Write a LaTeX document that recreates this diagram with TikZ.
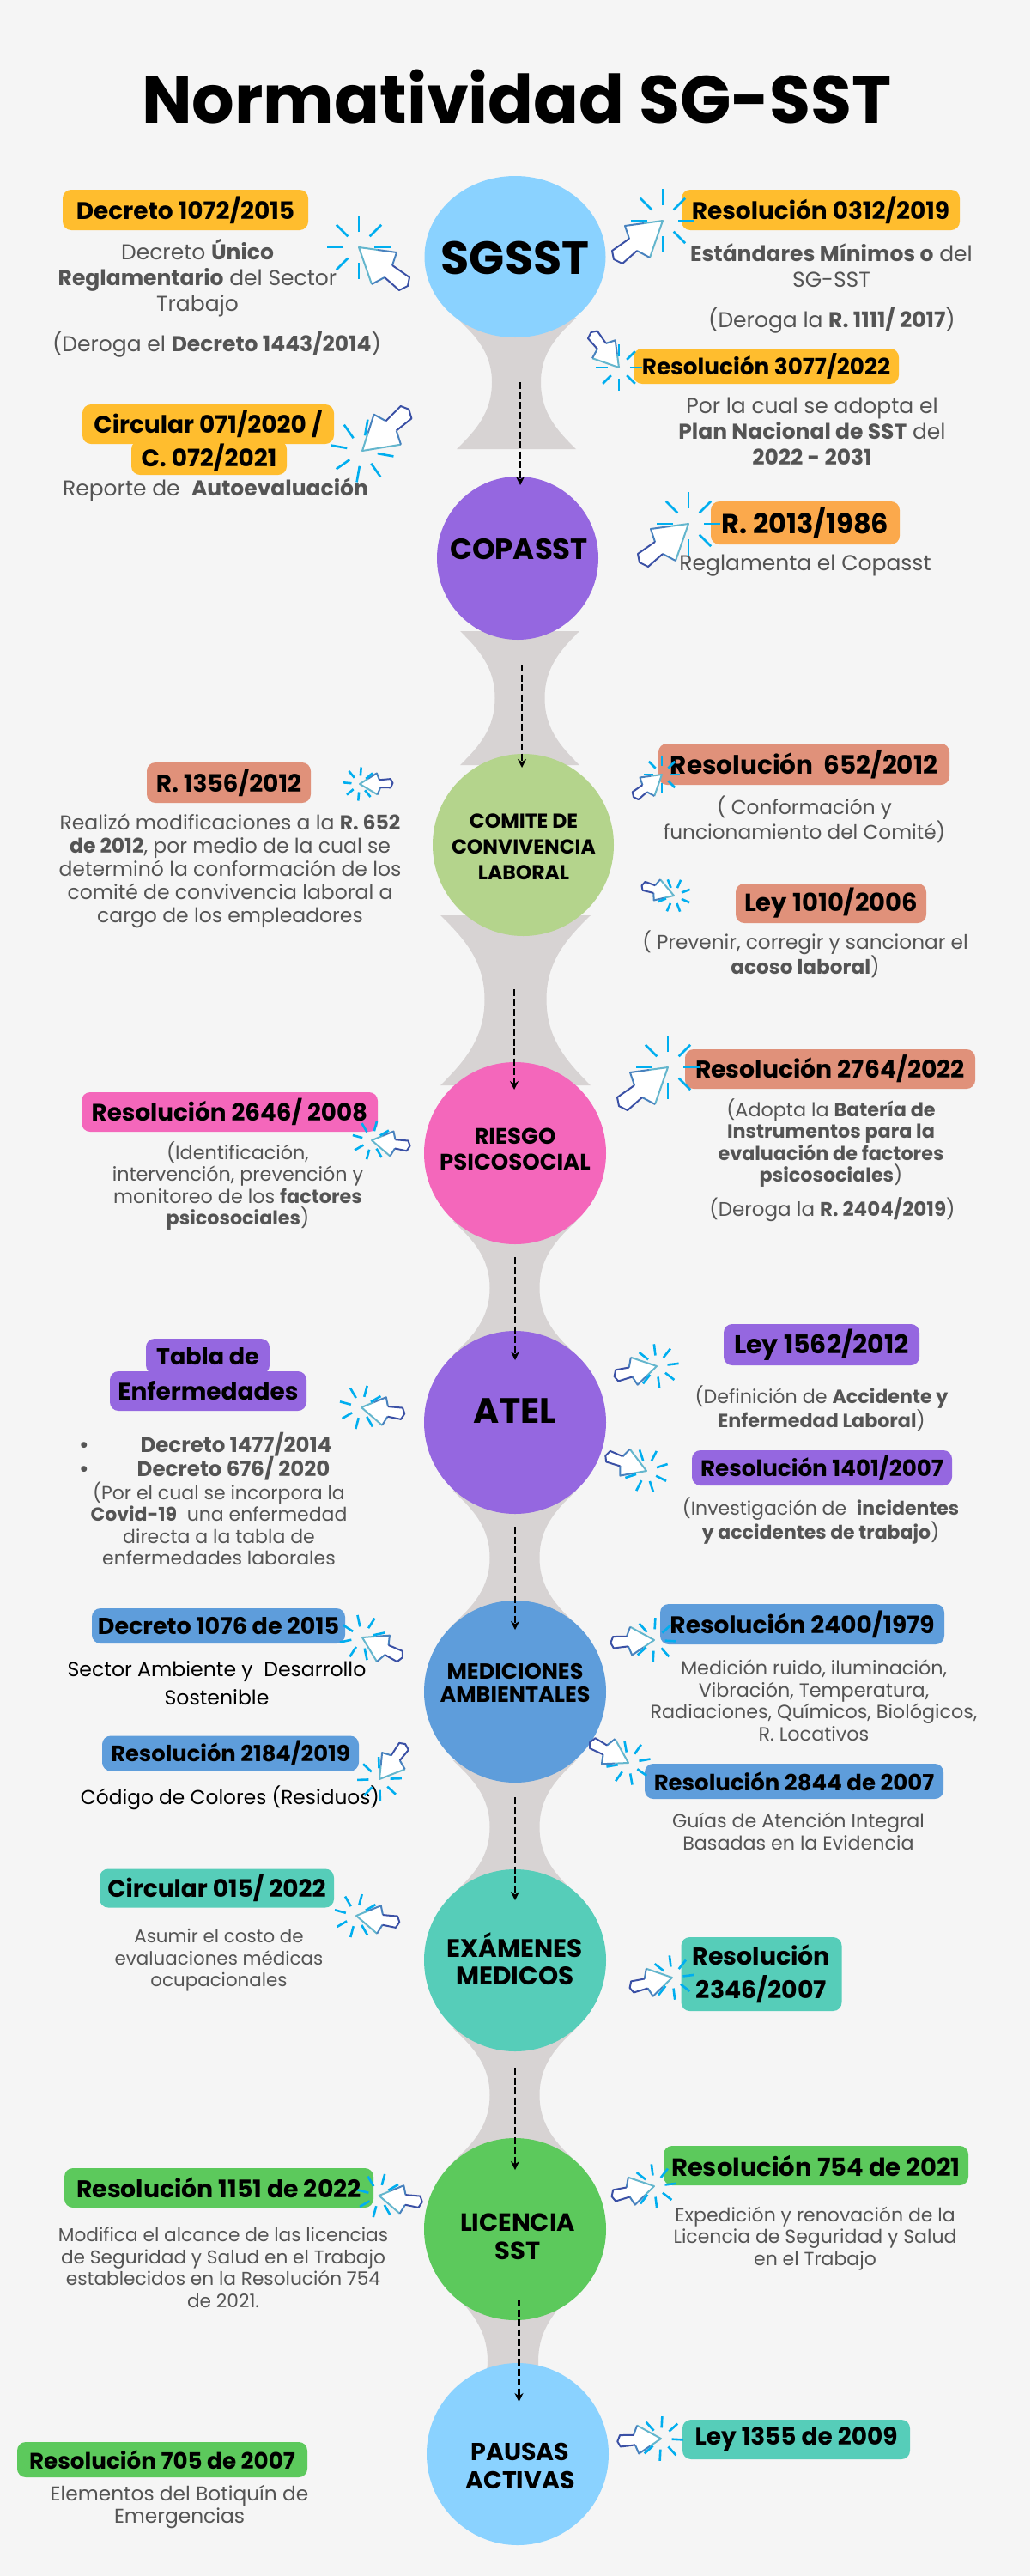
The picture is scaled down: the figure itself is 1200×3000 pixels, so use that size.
\documentclass[tikz,border=0pt]{standalone}
\usepackage{fontspec}
\setmainfont{Poppins}
\usetikzlibrary{shapes.geometric,arrows.meta}
\definecolor{pagebg}{RGB}{245,245,245}
\definecolor{neckgray}{RGB}{215,211,211}
\definecolor{notegray}{RGB}{84,84,84}
\definecolor{skyblue}{RGB}{138,210,255}
\definecolor{violet}{RGB}{149,103,224}
\definecolor{leafgreen}{RGB}{180,212,140}
\definecolor{hotpink}{RGB}{244,103,187}
\definecolor{steelblue}{RGB}{94,157,219}
\definecolor{teal}{RGB}{86,205,185}
\definecolor{grassgreen}{RGB}{92,201,92}
\definecolor{chipyellow}{RGB}{255,189,46}
\definecolor{chiporange}{RGB}{251,169,76}
\definecolor{chipsalmon}{RGB}{224,145,122}
\definecolor{raycyan}{RGB}{0,174,239}
\definecolor{edgelight}{RGB}{100,182,205}
\definecolor{edgemid}{RGB}{72,130,190}
\definecolor{edgedark}{RGB}{58,80,165}
\newcommand{\pxfont}[2]{\fontsize{#1}{#2}\selectfont}
% cx, y top, y waist, y bottom, half top, half bottom, half waist
\newcommand{\neckshape}[7]{
    \fill[neckgray] (#1-#5,#2) .. controls (#1-#7-0.45*#5+0.45*#7,#3-0.72*#3+0.72*#2) and (#1-#7,#3-0.45*#3+0.45*#2) .. (#1-#7,#3)
        .. controls (#1-#7,#3+0.45*#4-0.45*#3) and (#1-#7-0.45*#6+0.45*#7,#3+0.72*#4-0.72*#3) .. (#1-#6,#4)
        -- (#1+#6,#4) .. controls (#1+#7+0.45*#6-0.45*#7,#3+0.72*#4-0.72*#3) and (#1+#7,#3+0.45*#4-0.45*#3) .. (#1+#7,#3)
        .. controls (#1+#7,#3-0.45*#3+0.45*#2) and (#1+#7+0.45*#5-0.45*#7,#3-0.72*#3+0.72*#2) .. (#1+#5,#2) -- cycle;
}
\begin{document}
\begin{tikzpicture}[
        x=1pt, y=-1pt,
        hub/.style={ellipse, inner sep=0pt, outer sep=0pt},
        hublabel/.style 2 args={align=center, inner sep=0pt, text=black, font=\pxfont{#1}{#2}\bfseries},
        chip/.style={rectangle, rounded corners=10pt, inner sep=0pt, align=center, text=black, font=\pxfont{#1}{39}\bfseries},
        note/.style 2 args={align=center, inner sep=0pt, text=notegray, font=\pxfont{#1}{#2}},
        flow/.style={-{Stealth[length=10pt,width=10pt]}, line width=2.8pt, dash pattern=on 8pt off 3.5pt, black},
        clicker/.pic={
            \fill[white] (0,0) -- (44,6) -- (39,21) -- (59,35) -- (57,45) -- (47,50) -- (30,35) -- (15,43) -- cycle;
            \draw[edgelight, line width=2pt, line join=round] (15,43) -- (0,0) -- (22,3);
            \draw[edgemid, line width=2pt, line join=round] (22,3) -- (44,6) -- (39,21);
            \draw[edgemid, line width=2pt, line join=round] (15,43) -- (30,35);
            \draw[edgedark, line width=2pt, line join=round] (39,21) -- (59,35) -- (57,45) -- (47,50) -- (30,35);
            \foreach \a in {0,-45,-90,-135,180,135,90}
                \draw[raycyan, line width=2.6pt] (\a:18) -- (\a:37);
        }
    ]
        % Page
        \fill[pagebg] (0,0) rectangle (1200,3000);
        \node[inner sep=0pt, font=\pxfont{78}{78}\bfseries] (title) at (602,113) {Normatividad SG-SST};

        % Necks
        \neckshape{601.5}{370}{445}{523}{70}{69.5}{28.5}
        \neckshape{605.5}{735}{813}{891}{69.5}{69.5}{29}
        \neckshape{600.5}{1066}{1164}{1264}{87.5}{87.5}{36}
        \neckshape{599.5}{1422}{1500}{1578}{72}{72}{29}
        \neckshape{599.5}{1736}{1814}{1892}{72}{72}{29}
        \neckshape{599.5}{2050}{2128}{2206}{72}{72}{29}
        \neckshape{599.5}{2362}{2440}{2518}{72}{72}{29}
        \neckshape{597.5}{2680}{2750}{2800}{60}{60}{29.5}
        \coordinate (neck1) at (606,445);
        \coordinate (neck2) at (608,774);
        \coordinate (neck3) at (599,1152);
        \coordinate (neck4) at (600,1464);
        \coordinate (neck5) at (600,1778);
        \coordinate (neck6) at (600,2093);
        \coordinate (neck7) at (600,2408);
        \coordinate (neck8) at (604.5,2678);

        % Hubs
        \node[hub, fill=skyblue, minimum width=211pt, minimum height=188pt] (sgsst) at (600,299) {};
        \node[hub, fill=violet, minimum width=188pt, minimum height=190pt] (copasst) at (603,650) {};
        \node[hub, fill=leafgreen, minimum width=211pt, minimum height=212pt] (comite) at (609.5,984) {};
        \node[hub, fill=hotpink, minimum width=212pt, minimum height=212pt] (riesgo) at (600,1343) {};
        \node[hub, fill=violet, minimum width=212pt, minimum height=213pt] (atel) at (600,1656.5) {};
        \node[hub, fill=steelblue, minimum width=212pt, minimum height=212pt] (mediciones) at (600,1970) {};
        \node[hub, fill=teal, minimum width=212pt, minimum height=212pt] (examenes) at (600,2283) {};
        \node[hub, fill=grassgreen, minimum width=212pt, minimum height=212pt] (licencia) at (600,2596) {};
        \node[hub, fill=skyblue, minimum width=212pt, minimum height=212pt] (pausas) at (603,2858) {};

        % Hub labels
        \node[hublabel={54}{54}] (sgsstlabel) at (600,300) {SGSST};
        \node[hublabel={34}{34}] (copasstlabel) at (604.5,640) {COPASST};
        \node[hublabel={23.5}{30}] (comitelabel) at (610,986.5) {COMITE DE\\CONVIVENCIA\\LABORAL};
        \node[hublabel={26}{30}] (riesgolabel) at (600,1338) {RIESGO\\PSICOSOCIAL};
        \node[hublabel={41}{41}] (atellabel) at (600,1643.5) {ATEL};
        \node[hublabel={25.5}{27}] (medicioneslabel) at (600,1960) {MEDICIONES\\AMBIENTALES};
        \node[hublabel={29.5}{32}] (examenelabel) at (600,2281) {EXÁMENES\\MEDICOS};
        \node[hublabel={29}{33}] (licencialabel) at (603,2605) {LICENCIA\\SST};
        \node[hublabel={28.5}{33}] (pausaslabel) at (606,2872) {PAUSAS\\ACTIVAS};

        % Arrows
        \draw[flow] (neck1) -- ([yshift=-10pt]neck1 |- copasst.north);
        \draw[flow] (neck2) -- ([yshift=-16pt]neck2 |- comite.north);
        \draw[flow] (neck3) -- ([yshift=-32pt]neck3 |- riesgo.north);
        \draw[flow] (neck4) -- ([yshift=-34pt]neck4 |- atel.north);
        \draw[flow] (neck5) -- ([yshift=-34pt]neck5 |- mediciones.north);
        \draw[flow] (neck6) -- ([yshift=-36pt]neck6 |- examenes.north);
        \draw[flow] (neck7) -- ([yshift=-37pt]neck7 |- licencia.north);
        \draw[flow] (neck8) -- ([yshift=-45pt]neck8 |- pausas.north);

        % SGSST
        \node[chip=28, fill=chipyellow, minimum width=286pt, minimum height=47pt] (dec1072) at (216,244.5) {Decreto 1072/2015};
        \node[note={25}{30}] (notedec1072) at (230,324) {Decreto \textbf{Único}\\\textbf{Reglamentario} del Sector\\Trabajo};
        \node[note={25}{30}] (notederoga1443) at (252.5,401) {(Deroga el \textbf{Decreto 1443/2014})};
        \node[chip=28, fill=chipyellow, minimum width=293pt, minimum height=46pt] (cir071) at (242.5,494) {Circular 071/2020 /};
        \node[chip=28, fill=chipyellow, minimum width=181pt, minimum height=40pt] (cir072) at (243.5,533) {C. 072/2021};
        \node[note={25}{30}] (notecir071) at (251,570.5) {Reporte de \ \textbf{Autoevaluación}};
        \node[chip=28, fill=chipyellow, minimum width=324pt, minimum height=47pt] (res0312) at (956,244.5) {Resolución 0312/2019};
        \node[note={25}{30}] (noteres0312) at (968.5,309) {\textbf{Estándares Mínimos o} del\\SG-SST};
        \node[note={25}{30}] (notederoga1111) at (969,373) {(Deroga la \textbf{R. 1111/ 2017})};
        \node[chip=26.3, fill=chipyellow, minimum width=309pt, minimum height=41pt] (res3077) at (892.5,426.5) {Resolución 3077/2022};
        \node[note={25}{30}] (noteres3077) at (946,502) {Por la cual se adopta el\\\textbf{Plan Nacional de SST} del\\\textbf{2022 - 2031}};

        % COPASST
        \node[chip=32, fill=chiporange, minimum width=220pt, minimum height=50pt] (r2013) at (938,609) {R. 2013/1986};
        \node[note={25}{30}] (noter2013) at (938,659) {Reglamenta el Copasst};

        % Comite
        \node[chip=28, fill=chipsalmon, minimum width=191pt, minimum height=47pt] (r1356) at (266.5,911.5) {R. 1356/2012};
        \node[note={23.5}{27}] (noter1356) at (268,1014) {Realizó modificaciones a la \textbf{R. 652}\\\textbf{de 2012}, por medio de la cual se\\determinó la conformación de los\\comité de convivencia laboral a\\cargo de los empleadores};
        \node[chip=29.5, fill=chipsalmon, minimum width=339pt, minimum height=48pt] (res652) at (936.5,890) {Resolución \ 652/2012};
        \node[note={23.2}{27}] (noteres652) at (937,954.5) {( Conformación y\\funcionamiento del Comité)};
        \node[chip=29, fill=chipsalmon, minimum width=222pt, minimum height=46pt] (ley1010) at (968,1052) {Ley 1010/2006};
        \node[note={23.2}{27}] (noteley1010) at (938,1111) {( Prevenir, corregir y sancionar el\\\textbf{acoso laboral})};

        % Riesgo
        \node[chip=27.8, fill=hotpink, minimum width=345pt, minimum height=46pt] (res2646) at (267.5,1295) {Resolución 2646/ 2008};
        \node[note={22.3}{25.5}] (noteres2646) at (277,1381) {(Identificación,\\intervención, prevención y\\monitoreo de los \textbf{factores}\\\textbf{psicosociales})};
        \node[chip=28.3, fill=chipsalmon, minimum width=338pt, minimum height=46pt] (res2764) at (967,1245) {Resolución 2764/2022};
        \node[note={22.3}{25.5}] (noteres2764) at (968,1331) {(Adopta la \textbf{Batería de}\\\textbf{Instrumentos para la}\\\textbf{evaluación de factores}\\\textbf{psicosociales})};
        \node[note={23}{30}] (notederoga2404) at (969.5,1409) {(Deroga la \textbf{R. 2404/2019})};

        % ATEL
        \node[chip=27, fill=violet, minimum width=144pt, minimum height=41pt] (tabla) at (242,1579.5) {Tabla de};
        \node[chip=28, fill=violet, minimum width=229pt, minimum height=46pt] (enfermedades) at (242.5,1620) {Enfermedades};
        \node[note={28}{28}] (bullet1) at (98,1686) {\textbullet};
        \node[note={24.5}{27}] (decreto1477) at (275,1682) {\textbf{Decreto 1477/2014}};
        \node[note={28}{28}] (bullet2) at (98,1714) {\textbullet};
        \node[note={24.5}{27}] (decreto676) at (272,1710.5) {\textbf{Decreto 676/ 2020}};
        \node[note={22}{25.5}] (notetabla) at (255,1774.5) {(Por el cual se incorpora la\\\textbf{Covid-19} \ una enfermedad\\directa a la tabla de\\enfermedades laborales};
        \node[chip=30, fill=violet, minimum width=228pt, minimum height=48pt] (ley1562) at (957,1566) {Ley 1562/2012};
        \node[note={22.2}{26}] (noteley1562) at (957,1640) {(Definición de \textbf{Accidente y}\\\textbf{Enfermedad Laboral})};
        \node[chip=26.2, fill=violet, minimum width=303pt, minimum height=41pt] (res1401) at (957.5,1709.5) {Resolución 1401/2007};
        \node[note={22}{26}] (noteres1401) at (956,1771) {(Investigación de \ \textbf{incidentes}\\\textbf{y accidentes de trabajo})};

        % Mediciones
        \node[chip=27, fill=steelblue, minimum width=295pt, minimum height=41pt] (dec1076) at (254.5,1893.5) {Decreto 1076 de 2015};
        \node[note={23.6}{33}, text=black] (notedec1076) at (252.5,1960.5) {Sector Ambiente y \ Desarrollo\\Sostenible};
        \node[chip=25.8, fill=steelblue, minimum width=299pt, minimum height=41pt] (res2184) at (268.5,2042) {Resolución 2184/2019};
        \node[note={23.3}{30}, text=black] (noteres2184) at (268,2094) {Código de Colores (Residuos)};
        \node[chip=28, fill=steelblue, minimum width=331pt, minimum height=47pt] (res2400) at (934.5,1891.5) {Resolución 2400/1979};
        \node[note={22.3}{25.5}] (noteres2400) at (948,1980.5) {Medición ruido, iluminación,\\Vibración, Temperatura,\\Radiaciones, Químicos, Biológicos,\\R. Locativos};
        \node[chip=26, fill=steelblue, minimum width=348pt, minimum height=41pt] (res2844) at (925,2074.5) {Resolución 2844 de 2007};
        \node[note={22.2}{25.5}] (noteres2844) at (930,2133) {Guías de Atención Integral\\Basadas en la Evidencia};

        % Examenes
        \node[chip=28, fill=teal, minimum width=273pt, minimum height=45pt] (cir015) at (252.5,2199) {Circular 015/ 2022};
        \node[note={21.4}{25.5}] (notecir015) at (255,2283) {Asumir el costo de\\evaluaciones médicas\\ocupacionales};
        \node[chip=28.4, fill=teal, minimum width=187pt, minimum height=86pt] (res2346) at (887,2299) {Resolución\\2346/2007};

        % Licencia
        \node[chip=28.3, fill=grassgreen, minimum width=360pt, minimum height=46pt] (res1151) at (255,2548) {Resolución 1151 de 2022};
        \node[note={21.7}{25.5}] (noteres1151) at (260,2641) {Modifica el alcance de las licencias\\de Seguridad y Salud en el Trabajo\\establecidos en la Resolución 754\\de 2021.};
        \node[chip=29, fill=grassgreen, minimum width=355pt, minimum height=46pt] (res754) at (950.5,2522) {Resolución 754 de 2021};
        \node[note={22}{25.5}] (noteres754) at (949.5,2607) {Expedición y renovación de la\\Licencia de Seguridad y Salud\\en el Trabajo};

        % Pausas
        \node[chip=26.2, fill=grassgreen, minimum width=338pt, minimum height=41pt] (res705) at (189,2864.5) {Resolución 705 de 2007};
        \node[note={23.3}{25.5}] (noteres705) at (209,2919.5) {Elementos del Botiquín de\\Emergencias};
        \node[chip=28, fill=teal, minimum width=265pt, minimum height=46pt] (ley1355) at (927.5,2841) {Ley 1355 de 2009};

        % Click marks
        \pic at (418,288) {clicker};
        \pic[xscale=-1] at (772,257) {clicker};
        \pic[rotate=-90, xscale=-1, scale=.72] at (721,428) {clicker};
        \pic[rotate=80] at (422,525) {clicker};
        \pic[xscale=-1] at (802,610) {clicker};
        \pic[xscale=-1, scale=.58] at (771,902) {clicker};
        \pic[rotate=-159, scale=.54] at (785,1043) {clicker};
        \pic[rotate=40, scale=.53] at (419,913) {clicker};
        \pic[rotate=30, scale=.62] at (433,1328) {clicker};
        \pic[xscale=-1] at (778,1243) {clicker};
        \pic[rotate=30, scale=.7] at (421,1639) {clicker};
        \pic[rotate=-128, scale=.7] at (765,1591) {clicker};
        \pic[rotate=-162, scale=.7] at (753,1713) {clicker};
        \pic[rotate=12, scale=.72] at (422,1907) {clicker};
        \pic[rotate=-138, scale=.7] at (762,1910) {clicker};
        \pic[rotate=-170, scale=.7] at (732,2053) {clicker};
        \pic[rotate=92, scale=.7] at (442,2072) {clicker};
        \pic[rotate=30, scale=.7] at (415,2231) {clicker};
        \pic[rotate=-128, scale=.7] at (783,2303) {clicker};
        \pic[rotate=30, scale=.7] at (441.5,2557) {clicker};
        \pic[rotate=-128, scale=.7] at (762,2546) {clicker};
        \pic[rotate=-138, scale=.7] at (770,2840) {clicker};

    \end{tikzpicture}
\end{document}
